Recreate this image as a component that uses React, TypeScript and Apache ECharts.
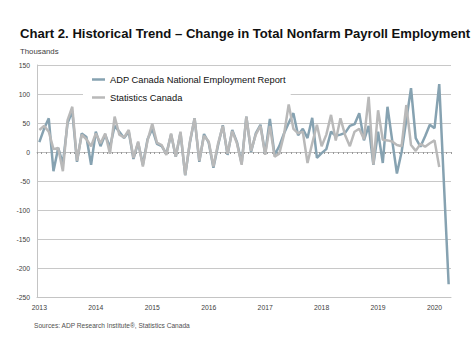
import React, { useEffect, useRef } from "react";
import * as echarts from "echarts";

const years = ["2013", "2014", "2015", "2016", "2017", "2018", "2019", "2020"];

const adpValues = [
  17, 40, 58, -33, 7, -20, 50, 70, -17, 32,
  26, -22, 35, 10, 30, 8, 45, 35, 24, 35,
  -12, 16, -22, 22, 40, 14, 10, -3, 30, -8,
  33, -40, 16, 58, -17, 31, 16, -27, 12, 46,
  -5, 38, 17, -20, 61, 0, 32, 47, -3, 57,
  -5, 10, 32, 50, 67, 29, 40, 24, 59, -10,
  -2, 5, 35, 28, 30, 33, 45, 48, 67, 20,
  45, -22, 35, -19, 78, 20, -37, 0, 55, 110,
  24, 9, 27, 47, 41, 117, -55, -228,
];

const statcanValues = [
  38, 45, 35, 5, 7, -33, 55, 78, -15, 30,
  22, 10, 32, 15, 32, -3, 61, 30, 25, 38,
  -10, 18, -25, 20, 49, 16, 12, -5, 32, -8,
  35, -40, 18, 58, -15, 28, 18, -25, 15, 45,
  -3, 36, 15, -22, 61, 2, 30, 45, -5, 45,
  -8, -3, 30, 82, 40, 32, 35, -19, 15, 47,
  10, 30, 64, 20, 58, 29, 10, 35, 40, 22,
  95, -22, 72, 21, 20, 18, 12, 10, 81, 12,
  2, 14, 9, 15, 20, -26,
];

const seriesNames = ["ADP Canada National Employment Report", "Statistics Canada"];

const categories: string[] = [];
years.forEach((y) => {
  for (let m = 1; m <= 12; m++) categories.push(`${y}-${m < 10 ? "0" + m : m}`);
});
const months = categories.slice(0, adpValues.length);

const FONT = "'Liberation Sans', Arial, sans-serif";

export default function App() {
  const ref = useRef<HTMLDivElement>(null);
  useEffect(() => {
    if (!ref.current) return;
    const chart = echarts.init(ref.current, undefined, { renderer: "svg" });
    chart.setOption({
      animation: false,
      backgroundColor: "#ffffff",
      textStyle: { fontFamily: FONT },
      graphic: [
        {
          type: "text",
          left: 20,
          top: 27,
          style: {
            text: "Chart 2. Historical Trend – Change in Total Nonfarm Payroll Employment",
            font: `bold 13.1px ${FONT}`,
            fill: "#111111",
          },
        },
        {
          type: "text",
          left: 20,
          top: 47,
          style: { text: "Thousands", font: `7.8px ${FONT}`, fill: "#404040" },
        },
        {
          type: "text",
          left: 34,
          top: 322,
          style: {
            text: "Sources: ADP Research Institute®, Statistics Canada",
            font: `6.6px ${FONT}`,
            fill: "#505050",
          },
        },
      ],
      legend: {
        left: 83,
        top: 70,
        orient: "vertical",
        backgroundColor: "#ffffff",
        padding: [4, 5, 4, 9],
        icon: "rect",
        itemWidth: 13,
        itemHeight: 2.5,
        itemGap: 7,
        textStyle: { fontSize: 9.3, color: "#111111", fontFamily: FONT, lineHeight: 11 },
        data: seriesNames,
      },
      grid: { left: 37, right: 23, top: 65, bottom: 58, containLabel: false },
      xAxis: [
        {
          type: "category",
          data: months,
          boundaryGap: true,
          axisLine: { onZero: false, lineStyle: { color: "#c4c4c4", width: 1 } },
          axisTick: { show: false },
          axisLabel: {
            interval: 11,
            fontSize: 6.8,
            color: "#404040",
            margin: 7,
            formatter: (v: string) => v.slice(0, 4),
          },
          splitLine: { show: false },
        },
        {
          type: "category",
          data: months,
          boundaryGap: true,
          position: "bottom",
          axisLine: { onZero: true, lineStyle: { color: "#bdbdbd", width: 1 } },
          axisTick: { show: true, interval: 0, length: 2, lineStyle: { color: "#9a9a9a" } },
          axisLabel: { show: false },
          splitLine: { show: false },
        },
      ],
      yAxis: {
        type: "value",
        min: -250,
        max: 150,
        interval: 50,
        axisLine: { show: true, lineStyle: { color: "#c4c4c4" } },
        axisTick: { show: false },
        axisLabel: { fontSize: 6.8, color: "#404040", margin: 7 },
        splitLine: { lineStyle: { color: "#c8c8c8", width: 1 } },
      },
      series: [
        {
          name: seriesNames[0],
          type: "line",
          data: adpValues,
          symbol: "none",
          lineStyle: { color: "#86a2b1", width: 2.5 },
          itemStyle: { color: "#86a2b1" },
          z: 3,
        },
        {
          name: seriesNames[1],
          type: "line",
          data: statcanValues,
          symbol: "none",
          lineStyle: { color: "#b9b9b9", width: 2.5 },
          itemStyle: { color: "#b9b9b9" },
          z: 4,
        },
      ],
    });
    return () => chart.dispose();
  }, []);
  return (
    <div
      ref={ref}
      style={{ position: "absolute", left: 0, top: 0, width: 474, height: 355 }}
    />
  );
}
